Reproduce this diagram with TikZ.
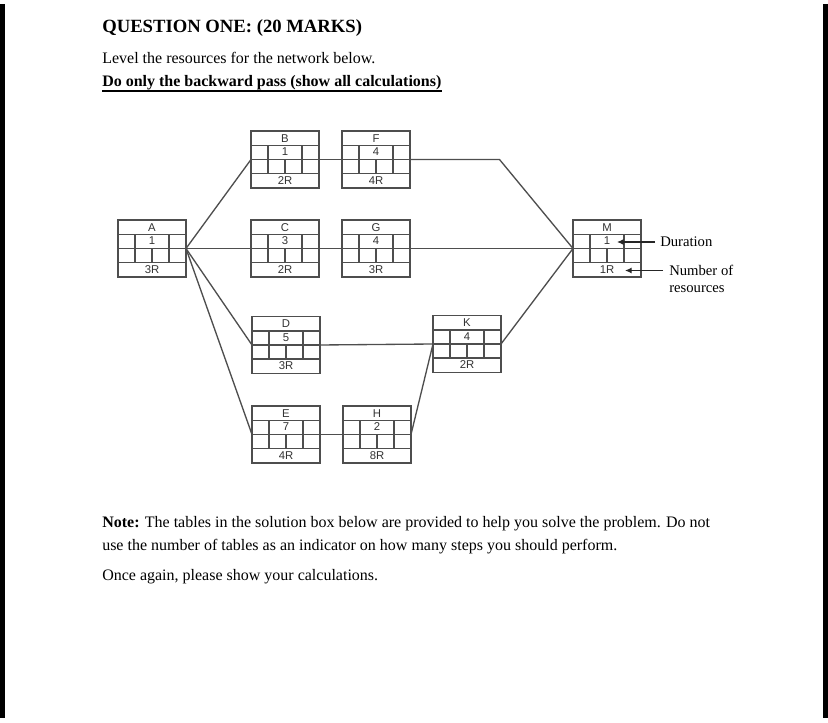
\documentclass[tikz,border=0pt]{standalone}
\usepackage{fontspec}
\setmainfont{Liberation Serif}
\newfontfamily\nodefont{Liberation Sans}
\usetikzlibrary{calc,arrows.meta}
\definecolor{linecol}{HTML}{4E4E4E}
\definecolor{nodetext}{HTML}{333333}
\tikzset{
  actbox/.style={draw=linecol, line width=1pt, minimum width=51pt, minimum height=42.75pt, inner sep=0pt, outer sep=0pt},
  grid/.style={draw=linecol, line width=1pt},
  conn/.style={draw=linecol, line width=1pt},
  ntext/.style={inner sep=0pt, text=nodetext, font=\nodefont\fontsize{8.5}{9}\selectfont},
  doc/.style={anchor=base west, inner sep=0pt, font=\fontsize{12}{14}\selectfont},
  legend/.style={inner sep=0pt, font=\fontsize{11}{13}\selectfont},
  tip/.style={draw=black!85, line width=0.8pt, -{Latex[length=5pt,width=4.5pt]}}
}
\newcommand{\actnode}[6]{%
  \node[actbox] (#1) at (#2,#3) {};
  \begin{scope}[shift={(#1.north west)}]
    \draw[grid] (0,14.5) -- (68,14.5) (0,28.5) -- (68,28.5) (0,42.5) -- (68,42.5);
    \draw[grid] (17,14.5) -- (17,42.5) (51,14.5) -- (51,42.5) (34,28.5) -- (34,42.5);
    \node[ntext] (#1-l) at (34,7.5) {#4};
    \node[ntext] (#1-d) at (34,21) {#5};
    \node[ntext] (#1-r) at (34,49.5) {#6};
  \end{scope}
}
\begin{document}
\begin{tikzpicture}[x=0.75pt, y=-0.75pt]
\useasboundingbox (0,0) rectangle (828,723);
% side bars
\fill[black] (0,4) rectangle (5,718);
\fill[black] (823,4) rectangle (828,718);

% header text
\node[anchor=base west, inner sep=0pt, font=\fontsize{14}{16}\selectfont\bfseries] (title) at (102,33) {QUESTION ONE: (20 MARKS)};
\node[doc] (level) at (102,64) {Level the resources for the network below.};
\node[doc, font=\fontsize{12}{14}\selectfont\bfseries] (task) at (102,87) {Do only the backward pass (show all calculations)};
\draw[line width=1.1pt] ($(task.base west)+(0,3.8)$) -- ($(task.base east)+(0,3.8)$);

% activity nodes
\actnode{A}{152}{248.5}{A}{1}{3R}
\actnode{B}{285}{159.5}{B}{1}{2R}
\actnode{F}{376}{159.5}{F}{4}{4R}
\actnode{C}{285}{248.5}{C}{3}{2R}
\actnode{G}{376}{248.5}{G}{4}{3R}
\actnode{D}{286}{345}{D}{5}{3R}
\actnode{K}{467}{344}{K}{4}{2R}
\actnode{E}{286}{434.5}{E}{7}{4R}
\actnode{H}{377}{434.5}{H}{2}{8R}
\actnode{M}{607}{248.5}{M}{1}{1R}

% connectors
\coordinate (fbend) at (499.5,159.5);
\draw[conn] (A.east) -- (B.west);
\draw[conn] (A.east) -- (C.west);
\draw[conn] (A.east) -- (D.west);
\draw[conn] (A.east) -- (E.west);
\draw[conn] (B.east) -- (F.west);
\draw[conn] (C.east) -- (G.west);
\draw[conn] (D.east) -- (K.west);
\draw[conn] (E.east) -- (H.west);
\draw[conn] (H.east) -- (K.west);
\draw[conn] (F.east) -- (fbend) -- (M.west);
\draw[conn] (G.east) -- (M.west);
\draw[conn] (K.east) -- (M.west);

% legend
\coordinate (durtip) at (617,242);
\coordinate (restip) at (625,270.5);
\node[legend, anchor=west] (durlab) at (660,242) {Duration};
\node[legend, anchor=west] (numlab) at (669,270.5) {Number of};
\node[legend, anchor=base west] (reslab) at (669,292.5) {resources};
\draw[tip] (durlab.west) ++(-5,0) -- (durtip);
\draw[tip] (numlab.west) ++(-6,0) -- (restip);

% note text
\node[doc] (note1) at (102,527) {\textbf{Note:} The tables in the solution box below are provided to help you solve the problem. Do not};
\node[doc] (note2) at (102,550.5) {use the number of tables as an indicator on how many steps you should perform.};
\node[doc] (note3) at (102,580) {Once again, please show your calculations.};
\end{tikzpicture}
\end{document}
